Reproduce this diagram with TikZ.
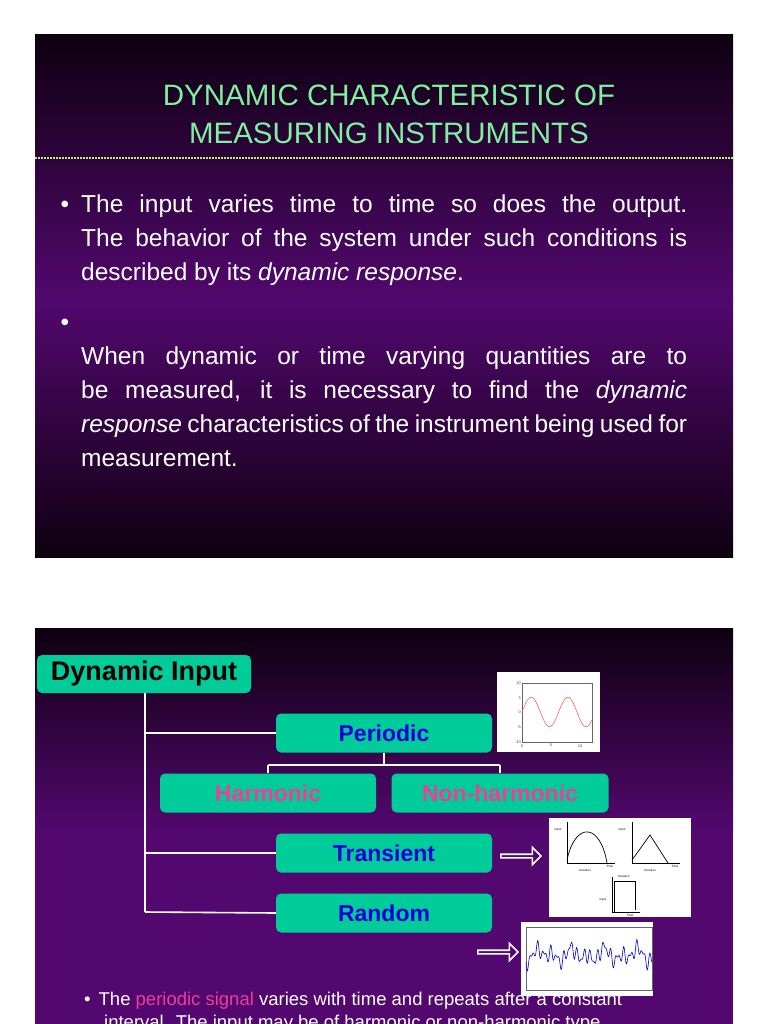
\documentclass[tikz,border=0pt]{standalone}
\usepackage{fontspec}
\setmainfont{Liberation Sans}
\usetikzlibrary{arrows.meta,shapes.arrows}
\definecolor{teal}{HTML}{00CC99}
\definecolor{ttl}{HTML}{80F0A0}
\definecolor{pinkc}{HTML}{EE3E9A}
\definecolor{dk}{HTML}{0E0010}
\definecolor{pu}{HTML}{52086E}
\begin{document}
\begin{tikzpicture}[x=1pt,y=-1pt,
  box/.style={fill=teal,rounded corners=5pt,draw=none},
  lnk/.style={draw=white,line width=1.6pt},
  dar/.style={single arrow,draw=white,line width=1.6pt,fill=none,minimum height=40pt,minimum width=17pt,single arrow head extend=3pt,inner sep=0pt},
  img/.style={fill=white,draw=none}]
\useasboundingbox (0,0) rectangle (768,1024);
\fill[white] (0,0) rectangle (768,1024);
% slide 1
\shade[top color=dk,bottom color=pu,shading angle=0] (35,35) rectangle (733,300);
\shade[top color=pu,bottom color=dk] (35,300) rectangle (733,557);
\node (t1) at (389,95) {\color{ttl}\fontsize{29.5}{34}\selectfont DYNAMIC CHARACTERISTIC OF};
\node (t2) at (389,133) {\color{ttl}\fontsize{29.5}{34}\selectfont MEASURING INSTRUMENTS};
\coordinate (dl) at (35,158); \coordinate (dr) at (733,158);
\draw[color=ttl!60!yellow,line width=1.5pt,dash pattern=on 2pt off 1pt] (dl) -- (dr);
\node[anchor=north west,text width=606pt,align=justify,inner sep=0pt,text=white] (b1) at (81,195)
 {\fontsize{24.5}{34}\selectfont\hyphenpenalty=10000\exhyphenpenalty=10000
 \llap{•\hspace{12pt}}The input varies time to time so does the output. The behavior of the system under such conditions is described by its \textit{dynamic response}.\par
 \vspace{16pt}\llap{•\hspace{12pt}}When dynamic or time varying quantities are to be measured, it is necessary to find the \textit{dynamic response} characteristics of the instrument being used for measurement.\par};
% slide 2
\shade[top color=dk,bottom color=pu] (35,628) rectangle (733,830);
\fill[pu] (35,830) rectangle (733,1024);
\node[box,minimum width=214pt,minimum height=38pt] (di) at (144,674) {\fontsize{27}{30}\selectfont\bfseries Dynamic Input};
\node[box,minimum width=216pt,minimum height=39pt] (pe) at (384,733) {\color{blue!85!black}\fontsize{23}{26}\selectfont\bfseries Periodic};
\node[box,minimum width=216pt,minimum height=39pt] (ha) at (268,793) {\color{pinkc}\fontsize{23}{26}\selectfont\bfseries Harmonic};
\node[box,minimum width=217pt,minimum height=39pt] (nh) at (500,793) {\color{pinkc}\fontsize{23}{26}\selectfont\bfseries Non-harmonic};
\node[box,minimum width=216pt,minimum height=39pt] (tr) at (384,853) {\color{blue!85!black}\fontsize{23}{26}\selectfont\bfseries Transient};
\node[box,minimum width=216pt,minimum height=39pt] (ra) at (384,913) {\color{blue!85!black}\fontsize{23}{26}\selectfont\bfseries Random};
\coordinate (v0) at (145,693); \coordinate (v1) at (145,912);
\draw[lnk] (v0) -- (v1);
\draw[lnk] (145,733) -- (pe.west);
\draw[lnk] (145,853) -- (tr.west);
\draw[lnk] (145,912) -- (ra.west);
\draw[lnk] (pe.south) -- (384,765);
\draw[lnk] (268,765) -- (500,765);
\draw[lnk] (268,765) -- (ha.north);
\draw[lnk] (500,765) -- (nh.north);
\node[dar] (a1) at (520,856) {};
\node[dar] (a2) at (497,952) {};
% sine image
\node[img,minimum width=103pt,minimum height=80pt] (si) at (548.5,712) {};
\begin{scope}[text=black!70]
\draw[black!60,line width=0.4pt] (522,683) rectangle (592,742);
\foreach \v/\yy in {10/683,5/698,0/712,-5/727,-10/742}{\node[font=\fontsize{4}{4}\selectfont,anchor=east,inner sep=1pt] at (522,\yy) {\v};}
\foreach \v/\xx in {0/522,5/551,10/580}{\node[font=\fontsize{4}{4}\selectfont,anchor=north,inner sep=1pt] at (\xx,743) {\v};}
\draw[red!70,line width=0.5pt,domain=0:12,samples=80,smooth] plot ({522+\x*70/12},{712-14.7*sin(\x r)});
\end{scope}
% transient image
\node[img,minimum width=142pt,minimum height=99pt] (ti) at (620,867.5) {};
\draw[black,line width=0.6pt] (567,822) -- (567,863) -- (615,863);
\draw[black,line width=0.7pt] (567,860) .. controls (575,822) and (600,822) .. (607,863);
\draw[black,line width=0.6pt] (632,822) -- (632,863) -- (680,863);
\draw[black,line width=0.7pt] (632,860) -- (650,835) -- (668,863);
\draw[black,line width=0.6pt] (612,877) -- (612,912) -- (640,912);
\draw[black,line width=0.7pt] (614,912) -- (614,881) -- (635,881) -- (635,910);
\foreach \p in {(558,830),(622,830),(603,900)}{\node[font=\fontsize{3}{3}\selectfont,inner sep=0pt] at \p {Input};}
\foreach \p in {(585,870),(650,870),(624,876)}{\node[font=\fontsize{3}{3}\selectfont,inner sep=0pt] at \p {Duration};}
\foreach \p in {(610,866),(675,866),(630,915)}{\node[font=\fontsize{3}{3}\selectfont,inner sep=0pt] at \p {Time};}
% random image
\node[img,minimum width=132pt,minimum height=74pt] (rd) at (587,959) {};
\draw[black!60,line width=0.4pt] (526,927) rectangle (652,990);
\draw[blue!80!black,line width=0.6pt,domain=0:50,samples=300] plot ({526+\x*126/50},{955+5*sin(\x*137)+4*sin(\x*53+60)+3.5*sin(\x*211)+4*cos(\x*29)});
% bottom text
\node[anchor=west,inner sep=0pt,text=white] (bt) at (84,1001) {\fontsize{18.5}{20}\selectfont •\hspace{8pt}The {\color{pinkc}periodic signal} varies with time and repeats after a constant};
\node[anchor=west,inner sep=0pt,text=white] (bt2) at (104,1024) {\fontsize{18.5}{20}\selectfont interval. The input may be of harmonic or non-harmonic type.};
\end{tikzpicture}
\end{document}
